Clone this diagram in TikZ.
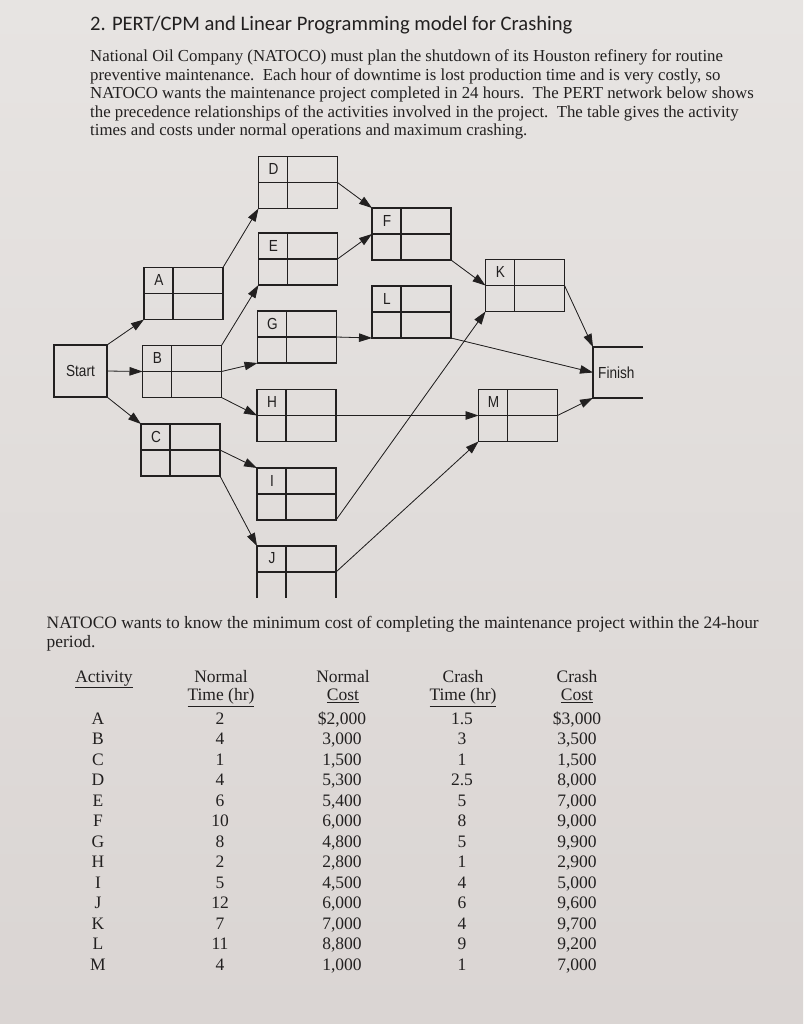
\documentclass[tikz,border=0pt]{standalone}
\usepackage{fontspec}
\setmainfont{Liberation Serif}
\newfontfamily\titlefont{Carlito}
\newfontfamily\boxfont[FakeStretch=0.85]{Liberation Sans}
\usetikzlibrary{arrows.meta}
\definecolor{paper}{RGB}{231,228,226}
\definecolor{paperdark}{RGB}{218,213,211}
\definecolor{ink}{RGB}{34,32,32}

\begin{document}
\begin{tikzpicture}[x=1pt,y=-1pt,
  conn/.style={-{Triangle[length=13pt,width=8.5pt]},line width=0.8pt,draw=ink,fill=ink},
  gridlines/.style={path picture={
    \draw[ink,line width=1.1pt]([xshift=29pt]path picture bounding box.north west)--([xshift=29pt]path picture bounding box.south west);
    \draw[ink,line width=1.1pt](path picture bounding box.west)--(path picture bounding box.east);}},
  act/.style={gridlines,draw=ink,line width=1.1pt,minimum width=79pt,minimum height=52pt,inner sep=0pt,outer sep=0pt},
  actopen/.style={gridlines,minimum width=79pt,minimum height=52pt,inner sep=0pt,outer sep=0pt},
  lbl/.style={anchor=center,xshift=15pt,yshift=-12.5pt,inner sep=0pt,text=ink,font=\boxfont\fontsize{16}{16}\selectfont},
  txt/.style={anchor=base west,inner sep=0pt,text=ink,font=\fontsize{16.8}{16.8}\selectfont},
  cell/.style={anchor=base,inner sep=0pt,text=ink,font=\fontsize{17.5}{17.5}\selectfont}]
\useasboundingbox(0,0)rectangle(803,1024);
\shade[top color=paper,bottom color=paperdark](0,0)rectangle(803,1024);

% heading and text
\node[anchor=base west,inner sep=0pt,text=ink,font=\titlefont\fontsize{20.6}{20.6}\selectfont](title)at(90,30.5){2. PERT/CPM and Linear Programming model for Crashing};
\node[txt](p1)at(90,62){National Oil Company (NATOCO) must plan the shutdown of its Houston refinery for routine};
\node[txt](p2)at(90,80.5){preventive maintenance.\ \ Each hour of downtime is lost production time and is very costly, so};
\node[txt](p3)at(90,99){NATOCO wants the maintenance project completed in 24 hours.\ \ The PERT network below shows};
\node[txt](p4)at(90,117.5){the precedence relationships of the activities involved in the project.\ \ The table gives the activity};
\node[txt](p5)at(90,136){times and costs under normal operations and maximum crashing.};

% network
\node[draw=ink,line width=1.1pt,minimum width=53pt,minimum height=52pt,inner sep=0pt,outer sep=0pt,text=ink,font=\boxfont\fontsize{16}{16}\selectfont](Start)at(80.5,371){Start};
\node[act,label={[lbl]north west:A}](A)at(183.5,293.5){};
\node[act,label={[lbl]north west:B}](B)at(182,371.5){};
\node[act,label={[lbl]north west:C}](C)at(180.5,450){};
\node[act,label={[lbl]north west:D}](D)at(298,182.5){};
\node[act,label={[lbl]north west:E}](E)at(298,259){};
\node[act,label={[lbl]north west:G}](G)at(297,337){};
\node[act,label={[lbl]north west:H}](H)at(296.5,415.5){};
\node[act,label={[lbl]north west:I}](I)at(296.5,494){};
\node[actopen,label={[lbl]north west:J}](J)at(296.5,572){};
\draw[ink,line width=1.1pt](J.south west)--(J.north west)--(J.north east)--(J.south east);
\node[act,label={[lbl]north west:F}](F)at(411.5,234){};
\node[act,label={[lbl]north west:L}](L)at(411.5,312){};
\node[act,label={[lbl]north west:K}](K)at(525,285.5){};
\node[act,label={[lbl]north west:M}](M)at(518,415.5){};
\node[minimum width=50pt,minimum height=51pt,inner sep=0pt,outer sep=0pt](Finish)at(618,372.5){};
\node[anchor=west,inner sep=0pt,text=ink,font=\boxfont\fontsize{16}{16}\selectfont](fin)at([xshift=5pt]Finish.west){Finish};
\draw[ink,line width=1.1pt](Finish.north east)--(Finish.north west)--(Finish.south west)--(Finish.south east);

\draw[conn](Start.north east)--(A.south west);
\draw[conn](Start.east)--(B.west);
\draw[conn](Start.south east)--(C.north west);
\draw[conn](A.north east)--(D.south west);
\draw[conn](B.north east)--(E.south west);
\draw[conn](B.east)--(G.south west);
\draw[conn](B.south east)--(H.west);
\draw[conn](C.east)--(I.north west);
\draw[conn](C.south east)--(J.north west);
\draw[conn](D.east)--(F.north west);
\draw[conn](E.east)--(F.west);
\draw[conn](G.east)--(L.south west);
\draw[conn](F.south east)--(K.west);
\draw[conn](L.south east)--(Finish.west);
\draw[conn](H.east)--(M.west);
\draw[conn](I.south east)--(K.south west);
\draw[conn](J.east)--(M.south west);
\draw[conn](K.east)--(Finish.north west);
\draw[conn](M.east)--(Finish.south west);

% question
\node[txt,font=\fontsize{17.4}{17.4}\selectfont](q1)at(46.5,628.5){NATOCO wants to know the minimum cost of completing the maintenance project within the 24-hour};
\node[txt,font=\fontsize{17.4}{17.4}\selectfont](q2)at(46.5,647){period.};

% table
\node[cell](h1)at(104,682.5){\underline{Activity}};
\node[cell](h2)at(221,682.5){Normal};
\node[cell](h3)at(221,700.7){\underline{Time (hr)}};
\node[cell](h4)at(343,682.5){Normal};
\node[cell](h5)at(343,700.7){\underline{Cost}};
\node[cell](h6)at(463,682.5){Crash};
\node[cell](h7)at(463,700.7){\underline{Time (hr)}};
\node[cell](h8)at(577,682.5){Crash};
\node[cell](h9)at(577,700.7){\underline{Cost}};
\foreach \act/\nt/\nc/\ct/\cc [count=\i from 0] in
  {A/2/{\$2,000}/1.5/{\$3,000},B/4/{3,000}/3/{3,500},C/1/{1,500}/1/{1,500},
   D/4/{5,300}/2.5/{8,000},E/6/{5,400}/5/{7,000},F/10/{6,000}/8/{9,000},
   G/8/{4,800}/5/{9,900},H/2/{2,800}/1/{2,900},I/5/{4,500}/4/{5,000},
   J/12/{6,000}/6/{9,600},K/7/{7,000}/4/{9,700},L/11/{8,800}/9/{9,200},
   M/4/{1,000}/1/{7,000}}
{
  \node[cell](a\i)at(98,724.3+20.5*\i){\act};
  \node[cell](nt\i)at(220,724.3+20.5*\i){\nt};
  \node[cell](nc\i)at(342,724.3+20.5*\i){\nc};
  \node[cell](ct\i)at(462,724.3+20.5*\i){\ct};
  \node[cell](cc\i)at(577,724.3+20.5*\i){\cc};
}
\end{tikzpicture}
\end{document}
